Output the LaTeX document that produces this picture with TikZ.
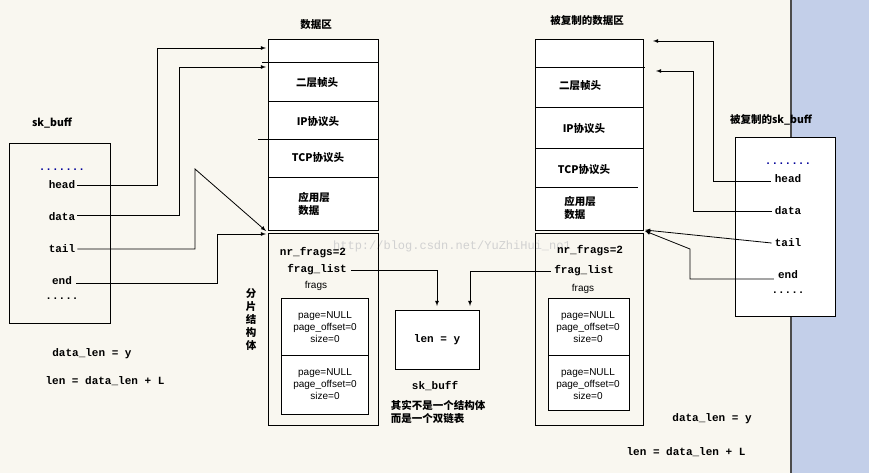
\documentclass[tikz,border=0pt]{standalone}
\usepackage{fontspec}
\setmainfont{Liberation Sans}
\newfontfamily\mono{Liberation Mono}
\newfontfamily\cjk{Noto Sans CJK SC}
\definecolor{bg}{HTML}{F9F7F0}
\definecolor{strip}{HTML}{C3CFE9}
\begin{document}
\begin{tikzpicture}[x=1pt,y=-1pt,
  box/.style={draw,line width=0.8pt},
  m/.style={font=\mono\bfseries\fontsize{11}{12}\selectfont},
  c/.style={font=\cjk\bfseries\fontsize{10.5}{13}\selectfont},
  s/.style={font=\fontsize{10}{12}\selectfont},
  arr/.style={draw,line width=0.8pt,-latex},
  lbl/.style={inner sep=0pt}]
\useasboundingbox (0,0) rectangle (869,473);
\fill[bg] (0,0) rectangle (790,473);
\fill[strip] (790,0) rectangle (869,473);
\draw[line width=2pt,black!70] (791,0) -- (791,473);
% watermark
\node[lbl,black!18,font=\mono\fontsize{12}{12}\selectfont] at (452,246) {http://blog.csdn.net/YuZhiHui\_no1};
% left sk_buff
\node[c,lbl] (skl) at (52,123) {sk\_buff};
\draw[box,fill=bg] (9,143) rectangle (110,323);
\node[m,lbl,blue!60!black] (dl) at (62,170) {.......};
\node[m,lbl] (hl) at (62,185) {head};
\node[m,lbl] (dal) at (62,217) {data};
\node[m,lbl] (tl) at (62,249) {tail};
\node[m,lbl] (el) at (62,281) {end};
\node[m,lbl] (ddl) at (62,299) {.....};
\node[m,lbl] (dlen1) at (92,354) {data\_len = y};
\node[m,lbl] (len1) at (105,381) {len = data\_len + L};
% data area
\node[c,lbl] (t1) at (316,25) {数据区};
\draw[box,fill=white] (268,39) rectangle (378,230);
\foreach \yy/\a/\b in {62/262/378,101/268/378,139/258/378,177/268/378} \draw (\a,\yy)--(\b,\yy);
\node[c,lbl] at (317,83) {二层帧头};
\node[c,lbl] at (318,122) {IP协议头};
\node[c,lbl] at (318,158) {TCP协议头};
\node[c,lbl,align=left] at (314,204) {应用层\\数据};
\coordinate (a1) at (266,48); \coordinate (a2) at (266,67);
\coordinate (a3) at (266,231); \coordinate (a4) at (266,234);
\draw[box] (268,233) rectangle (378,425);
\node[m,lbl] at (313,253) {nr\_frags=2};
\node[m,lbl] (fl1) at (317,270) {frag\_list};
\node[s,lbl] at (316,286) {frags};
\draw[box,fill=white] (281,298) rectangle (368,414); \draw (281,355)--(368,355);
\node[s,lbl,align=center] at (325,327) {page=NULL\\page\_offset=0\\size=0};
\node[s,lbl,align=center] at (325,384) {page=NULL\\page\_offset=0\\size=0};
\node[c,lbl,align=center] at (251,320) {分\\片\\结\\构\\体};
% middle
\node[box,fill=white,m,minimum width=84pt,minimum height=59pt] (mid) at (437,340) {len = y};
\node[m,lbl] at (435,386) {sk\_buff};
\node[c,lbl,align=left] at (438,412) {其实不是一个结构体\\而是一个双链表};
% right data area
\node[c,lbl] at (587,21) {被复制的数据区};
\draw[box,fill=white] (535,39) rectangle (643,230);
\foreach \yy/\a/\b in {67/535/645,107/535/643,148/535/643,187/535/638} \draw (\a,\yy)--(\b,\yy);
\node[c,lbl] at (580,86) {二层帧头};
\node[c,lbl] at (584,129) {IP协议头};
\node[c,lbl] at (584,170) {TCP协议头};
\node[c,lbl,align=left] at (580,208) {应用层\\数据};
\draw[box] (535,233) rectangle (643,425);
\node[m,lbl] at (590,251) {nr\_frags=2};
\node[m,lbl] (fl2) at (584,271) {frag\_list};
\node[s,lbl] at (583,289) {frags};
\draw[box,fill=white] (548,298) rectangle (629,410); \draw (548,355)--(629,355);
\node[s,lbl,align=center] at (588,327) {page=NULL\\page\_offset=0\\size=0};
\node[s,lbl,align=center] at (588,384) {page=NULL\\page\_offset=0\\size=0};
\node[m,lbl] at (712,419) {data\_len = y};
\node[m,lbl] at (686,452) {len = data\_len + L};
% right sk_buff
\node[c,lbl] at (771,120) {被复制的sk\_buff};
\draw[box,fill=white] (735,137) rectangle (835,316);
\node[m,lbl,blue!60!black] at (788,164) {.......};
\node[m,lbl] (hr) at (788,179) {head};
\node[m,lbl] (dar) at (788,211) {data};
\node[m,lbl] (tr) at (788,243) {tail};
\node[m,lbl] (er) at (788,275) {end};
\node[m,lbl] at (788,293) {.....};
% arrows left
\draw[arr] (hl.east) ++(2,0) -- (157,185) -- (157,48) -- (a1);
\draw[arr] (dal.east) ++(2,-2) -- (179,215) -- (179,67) -- (a2);
\draw[arr] (tl.east) ++(2,0) -- (195,249) -- (195,169) -- (a3);
\draw[arr] (el.east) ++(4,2) -- (217,283) -- (217,234) -- (a4);
% arrows right
\draw[arr] (hr.west) ++(-4,2) -- (713,181) -- (713,41) -- (653,41);
\draw[arr] (dar.west) ++(-3,0) -- (693,211) -- (693,71) -- (656,71);
\draw[arr] (tr.west) ++(-3,0) -- (645,230);
\draw[arr] (er.west) ++(-4,4) -- (690,279) -- (690,249) -- (645,231);
% middle arrows
\draw[arr] (fl1.east) ++(4,0) -- (437,270) -- (437,306);
\draw[arr] (fl2.west) ++(-3,0) -- (470,271) -- (470,306);
\end{tikzpicture}
\end{document}
